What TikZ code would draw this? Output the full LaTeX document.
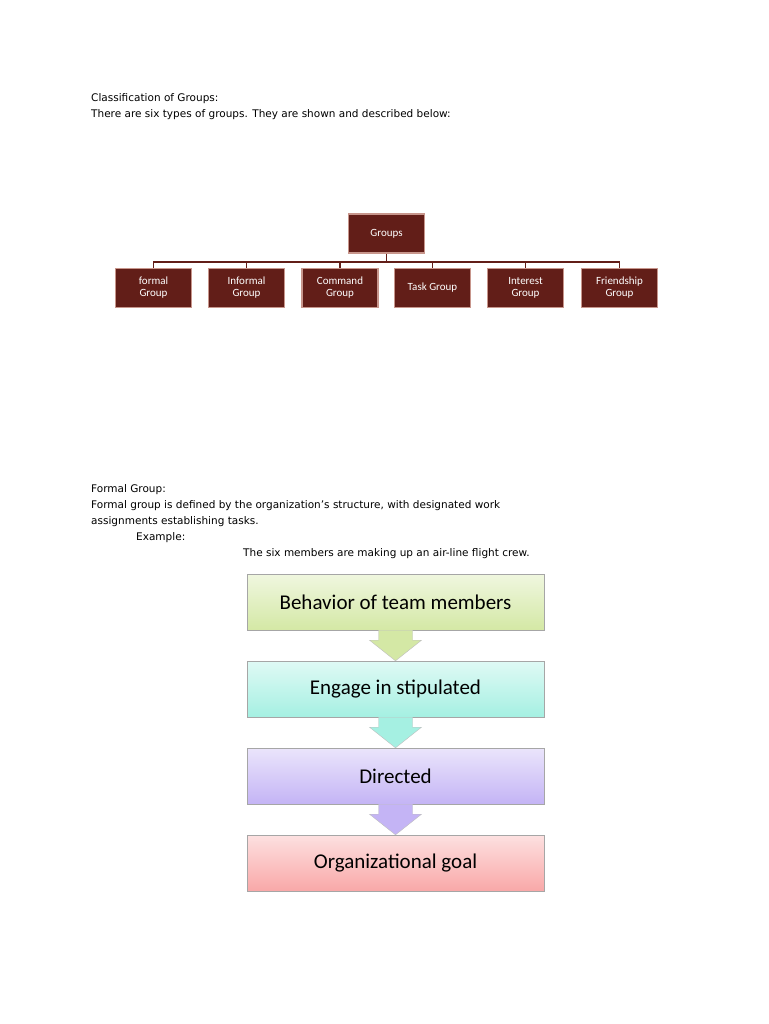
\documentclass[tikz,border=0pt]{standalone}
\usepackage{fontspec}
\setmainfont{DejaVu Sans}
\newfontfamily\boxfont{Carlito}
\usetikzlibrary{positioning,calc}
\definecolor{brownbox}{RGB}{98,30,24}
\definecolor{brownedge}{RGB}{200,150,140}
\begin{document}
\begin{tikzpicture}[x=1pt,y=-1pt]
    % Define the styles for the groups, lines and flow steps
    \tikzset{group/.style={rectangle, draw=brownedge, line width=1.2pt, fill=brownbox, text=white, font=\boxfont\fontsize{11}{12}\selectfont, align=center, minimum width=76pt, minimum height=39pt, inner sep=1pt},
        link/.style={line width=1.6pt, draw=brownbox},
        step/.style={rectangle, draw=gray!70, top color=#1!35, bottom color=#1, font=\boxfont\fontsize{21}{24}\selectfont, minimum width=297pt, minimum height=56pt},
        txt/.style={anchor=base west, font=\fontsize{10.5}{12}\selectfont, inner sep=0pt}}
    \definecolor{stepa}{RGB}{212,232,165}
    \definecolor{stepb}{RGB}{165,240,226}
    \definecolor{stepc}{RGB}{196,180,245}
    \definecolor{stepd}{RGB}{249,168,168}
    \useasboundingbox (0,0) rectangle (768,1024);

    % Draw the texts
    \node[txt] (title) at (91,102) {Classification of Groups:};
    \node[txt] (intro) at (91,118) {There are six types of groups. They are shown and described below:};
    \node[txt] (formal_title) at (91,492) {Formal Group:};
    \node[txt] (formal_def) at (91,508) {Formal group is defined by the organization’s structure, with designated work};
    \node[txt] (formal_def2) at (91,524) {assignments establishing tasks.};
    \node[txt] (example) at (136,540) {Example:};
    \node[txt] (crew) at (243,556) {The six members are making up an air-line flight crew.};

    % Draw the group hierarchy
    \node[group] (groups) at (386.5,233.5) {Groups};
    \node[group] (formal) at (153.5,288) {formal\\Group};
    \node[group] (informal) at (246.5,288) {Informal\\Group};
    \node[group] (command) at (340,288) {Command\\Group};
    \node[group] (task) at (432.5,288) {Task Group};
    \node[group] (interest) at (525.5,288) {Interest\\Group};
    \node[group] (friendship) at (619.5,288) {Friendship\\Group};
    \coordinate (bus) at (386.5,262);
    \draw[link] (groups.south) -- (bus);
    \draw[link] (formal.north) |- (bus) -| (friendship.north);
    \foreach \child in {informal,command,task,interest}
        \draw[link] (\child.north) -- (\child.north |- bus);

    % Draw the flow steps
    \node[step=stepa] (behavior) at (395.5,602) {Behavior of team members};
    \node[step=stepb] (engage) at (395.5,689) {Engage in stipulated};
    \node[step=stepc] (directed) at (395.5,776) {Directed};
    \node[step=stepd] (goal) at (395.5,863) {Organizational goal};

    % Draw the block arrows between the steps
    \foreach \from/\to/\col in {behavior/engage/stepa, engage/directed/stepb, directed/goal/stepc}
        \filldraw[draw=gray!50, fill=\col] ($(\from.south)+(-17,0)$) -- ($(\from.south)+(17,0)$) -- ($(\from.south)+(17,10)$) -- ($(\from.south)+(26,10)$) -- (\to.north) -- ($(\from.south)+(-26,10)$) -- ($(\from.south)+(-17,10)$) -- cycle;
\end{tikzpicture}
\end{document}
